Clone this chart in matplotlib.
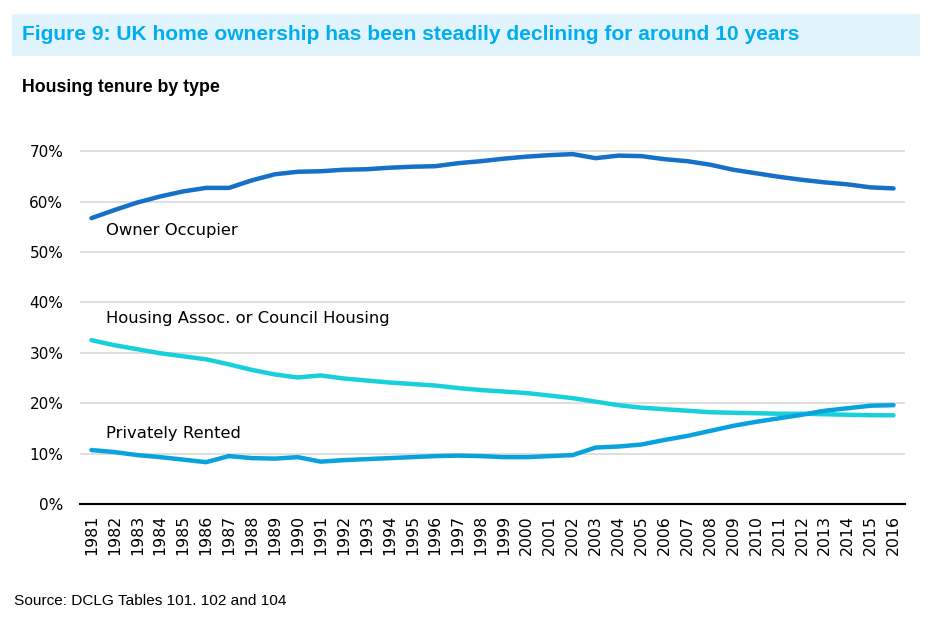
import matplotlib.pyplot as plt
import matplotlib.patches as patches
from matplotlib.ticker import PercentFormatter

years = list(range(1981, 2017))

owner_occupier = [56.7, 58.3, 59.8, 61.0, 62.0, 62.7, 62.7, 64.2, 65.4, 65.9,
                  66.0, 66.3, 66.4, 66.7, 66.9, 67.0, 67.6, 68.0, 68.5, 68.9,
                  69.2, 69.4, 68.6, 69.1, 69.0, 68.4, 68.0, 67.3, 66.3, 65.6,
                  64.9, 64.3, 63.8, 63.4, 62.8, 62.6]
housing_assoc = [32.5, 31.5, 30.7, 29.9, 29.3, 28.7, 27.7, 26.6, 25.7, 25.1,
                 25.5, 24.9, 24.5, 24.1, 23.8, 23.5, 23.0, 22.6, 22.3, 22.0,
                 21.5, 21.0, 20.3, 19.6, 19.1, 18.8, 18.5, 18.2, 18.1, 18.0,
                 17.9, 17.9, 17.8, 17.7, 17.6, 17.6]
privately_rented = [10.7, 10.3, 9.7, 9.3, 8.8, 8.3, 9.5, 9.1, 9.0, 9.3,
                    8.4, 8.7, 8.9, 9.1, 9.3, 9.5, 9.6, 9.5, 9.3, 9.3,
                    9.5, 9.7, 11.2, 11.4, 11.8, 12.7, 13.5, 14.5, 15.5, 16.3,
                    17.0, 17.7, 18.5, 19.0, 19.5, 19.6]

series_labels = ["Owner Occupier", "Housing Assoc. or Council Housing", "Privately Rented"]

plt.rcParams['font.family'] = ['DejaVu Sans']
head_font = ['Liberation Sans', 'DejaVu Sans']

fig = plt.figure(figsize=(9.31, 6.23), dpi=100)

# title band
fig.patches.append(patches.Rectangle((12 / 931, 1 - 56 / 623), 908 / 931, 42 / 623,
                                     transform=fig.transFigure, facecolor='#e1f3fc',
                                     edgecolor='none', zorder=0))
fig.text(22 / 931, 1 - 35 / 623, "Figure 9: UK home ownership has been steadily declining for around 10 years",
         fontsize=15.1, fontweight='bold', color='#00aeef', va='center', ha='left', family=head_font)
fig.text(22 / 931, 1 - 87 / 623, "Housing tenure by type", fontsize=12.8, fontweight='bold',
         color='black', va='center', ha='left', family=head_font)
fig.text(14 / 931, 1 - 601 / 623, "Source: DCLG Tables 101. 102 and 104", fontsize=11.1,
         color='black', va='center', ha='left', family=head_font)

ax = fig.add_axes([80 / 931, 1 - 504 / 623, 825 / 931, (504 - 140) / 623])

ax.plot(years, owner_occupier, color='#1570c8', lw=3.2, solid_capstyle='round')
ax.plot(years, housing_assoc, color='#18d0dc', lw=3.2, solid_capstyle='round')
ax.plot(years, privately_rented, color='#0aa2dc', lw=3.2, solid_capstyle='round')

ax.text(1981.65, 54.3, series_labels[0], fontsize=11.8, va='center', ha='left')
ax.text(1981.65, 36.8, series_labels[1], fontsize=11.8, va='center', ha='left')
ax.text(1981.65, 13.9, series_labels[2], fontsize=11.8, va='center', ha='left')

ax.set_xlim(1980.5, 2016.5)
ax.set_ylim(0, 72.2)
ax.set_yticks(range(0, 71, 10))
ax.yaxis.set_major_formatter(PercentFormatter(decimals=0))
ax.set_xticks(years)
ax.set_xticklabels([str(y) for y in years], rotation=90, fontsize=11.3)
ax.tick_params(axis='y', labelsize=11, length=0, pad=12)
ax.tick_params(axis='x', length=0, pad=8)
ax.grid(axis='y', color='#d9d9d9', lw=1.2)
ax.set_axisbelow(True)
for side in ['top', 'right', 'left']:
    ax.spines[side].set_visible(False)
ax.spines['bottom'].set_color('black')
ax.spines['bottom'].set_linewidth(1.5)

fig.savefig('out.png', dpi=100)
